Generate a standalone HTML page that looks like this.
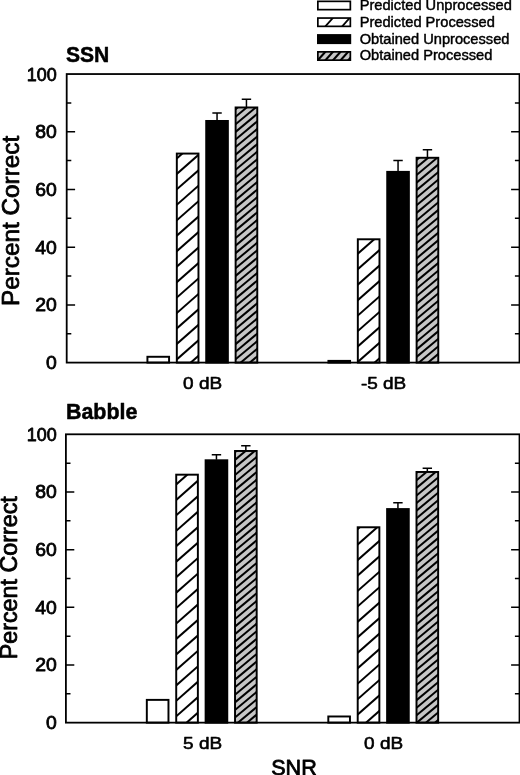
<!DOCTYPE html>
<html lang="en"><head><meta charset="utf-8"><title>Percent Correct by SNR</title>
<style>html,body{margin:0;padding:0;background:#fff}svg{display:block}text{stroke:#000;stroke-width:.8px;stroke-linejoin:round}text.b{stroke-width:.5px}text.l{stroke-width:.45px}text.x{stroke-width:.6px}</style></head>
<body>
<svg width="520" height="775" viewBox="0 0 520 775" font-family='"Liberation Sans", sans-serif' fill="#000" stroke="none">
<rect x="0" y="0" width="520" height="775" fill="#fff"/>
<rect x="317.85" y="1.35" width="32.50" height="8.30" fill="#fff"/>
<rect x="317.85" y="1.35" width="32.50" height="8.30" fill="none" stroke="#000" stroke-width="1.7"/>
<text class="l" x="359.7" y="10.4" font-size="14.65">Predicted Unprocessed</text>
<rect x="317.85" y="18.05" width="32.50" height="8.30" fill="#fff"/>
<clipPath id="c1"><rect x="317.85" y="18.05" width="32.50" height="8.30"/></clipPath>
<g clip-path="url(#c1)" stroke="#000" stroke-width="1.8">
<line x1="306.81" y1="28.35" x2="317.79" y2="16.05"/>
<line x1="323.61" y1="28.35" x2="334.59" y2="16.05"/>
<line x1="340.41" y1="28.35" x2="351.39" y2="16.05"/>
</g>
<rect x="317.85" y="18.05" width="32.50" height="8.30" fill="none" stroke="#000" stroke-width="1.7"/>
<text class="l" x="359.7" y="27.1" font-size="14.65">Predicted Processed</text>
<rect x="317.85" y="34.95" width="32.50" height="8.30" fill="#000"/>
<rect x="317.85" y="34.95" width="32.50" height="8.30" fill="none" stroke="#000" stroke-width="1.7"/>
<text class="l" x="359.7" y="43.7" font-size="14.65">Obtained Unprocessed</text>
<rect x="317.85" y="51.85" width="32.50" height="8.30" fill="#c6c6c6"/>
<clipPath id="c2"><rect x="317.85" y="51.85" width="32.50" height="8.30"/></clipPath>
<g clip-path="url(#c2)" stroke="#000" stroke-width="2.1">
<line x1="308.51" y1="62.15" x2="319.49" y2="49.85"/>
<line x1="316.11" y1="62.15" x2="327.09" y2="49.85"/>
<line x1="323.71" y1="62.15" x2="334.69" y2="49.85"/>
<line x1="331.31" y1="62.15" x2="342.29" y2="49.85"/>
<line x1="338.91" y1="62.15" x2="349.89" y2="49.85"/>
<line x1="346.51" y1="62.15" x2="357.49" y2="49.85"/>
</g>
<rect x="317.85" y="51.85" width="32.50" height="8.30" fill="none" stroke="#000" stroke-width="1.7"/>
<text class="l" x="359.7" y="60.3" font-size="14.65">Obtained Processed</text>
<text transform="translate(66 62.2) scale(0.985 1.07)" class="b" font-size="21.4" font-weight="bold">SSN</text>
<text transform="translate(19.3 220.9) rotate(-90)" text-anchor="middle" font-size="24.3">Percent Correct</text>
<rect x="147.42" y="356.78" width="21.65" height="5.82" fill="#fff"/>
<rect x="147.42" y="356.78" width="21.65" height="5.82" fill="none" stroke="#000" stroke-width="1.95"/>
<rect x="176.82" y="153.57" width="21.65" height="209.03" fill="#fff"/>
<clipPath id="c3"><rect x="176.82" y="153.57" width="21.65" height="209.03"/></clipPath>
<g clip-path="url(#c3)" stroke="#000" stroke-width="2.0">
<line x1="174.82" y1="129.24" x2="200.47" y2="106.67"/>
<line x1="174.82" y1="144.70" x2="200.47" y2="122.13"/>
<line x1="174.82" y1="160.16" x2="200.47" y2="137.59"/>
<line x1="174.82" y1="175.62" x2="200.47" y2="153.05"/>
<line x1="174.82" y1="191.08" x2="200.47" y2="168.51"/>
<line x1="174.82" y1="206.54" x2="200.47" y2="183.97"/>
<line x1="174.82" y1="222.00" x2="200.47" y2="199.43"/>
<line x1="174.82" y1="237.46" x2="200.47" y2="214.89"/>
<line x1="174.82" y1="252.92" x2="200.47" y2="230.35"/>
<line x1="174.82" y1="268.38" x2="200.47" y2="245.81"/>
<line x1="174.82" y1="283.84" x2="200.47" y2="261.27"/>
<line x1="174.82" y1="299.30" x2="200.47" y2="276.73"/>
<line x1="174.82" y1="314.76" x2="200.47" y2="292.19"/>
<line x1="174.82" y1="330.22" x2="200.47" y2="307.65"/>
<line x1="174.82" y1="345.68" x2="200.47" y2="323.11"/>
<line x1="174.82" y1="361.14" x2="200.47" y2="338.57"/>
<line x1="174.82" y1="376.60" x2="200.47" y2="354.03"/>
<line x1="174.82" y1="392.06" x2="200.47" y2="369.49"/>
</g>
<rect x="176.82" y="153.57" width="21.65" height="209.03" fill="none" stroke="#000" stroke-width="1.95"/>
<rect x="206.22" y="120.97" width="21.65" height="241.63" fill="#000"/>
<rect x="206.22" y="120.97" width="21.65" height="241.63" fill="none" stroke="#000" stroke-width="1.95"/>
<path d="M217.05 120.50V113.05M212.35 113.05H221.75" stroke="#000" stroke-width="1.5" fill="none"/>
<rect x="235.62" y="107.47" width="21.65" height="255.13" fill="#c6c6c6"/>
<clipPath id="c4"><rect x="235.62" y="107.47" width="21.65" height="255.13"/></clipPath>
<g clip-path="url(#c4)" stroke="#000" stroke-width="2.0">
<line x1="233.62" y1="95.63" x2="259.27" y2="74.21"/>
<line x1="233.62" y1="103.21" x2="259.27" y2="81.79"/>
<line x1="233.62" y1="110.79" x2="259.27" y2="89.37"/>
<line x1="233.62" y1="118.37" x2="259.27" y2="96.95"/>
<line x1="233.62" y1="125.95" x2="259.27" y2="104.53"/>
<line x1="233.62" y1="133.53" x2="259.27" y2="112.11"/>
<line x1="233.62" y1="141.11" x2="259.27" y2="119.69"/>
<line x1="233.62" y1="148.69" x2="259.27" y2="127.27"/>
<line x1="233.62" y1="156.27" x2="259.27" y2="134.85"/>
<line x1="233.62" y1="163.85" x2="259.27" y2="142.43"/>
<line x1="233.62" y1="171.43" x2="259.27" y2="150.01"/>
<line x1="233.62" y1="179.01" x2="259.27" y2="157.59"/>
<line x1="233.62" y1="186.59" x2="259.27" y2="165.17"/>
<line x1="233.62" y1="194.17" x2="259.27" y2="172.75"/>
<line x1="233.62" y1="201.75" x2="259.27" y2="180.33"/>
<line x1="233.62" y1="209.33" x2="259.27" y2="187.91"/>
<line x1="233.62" y1="216.91" x2="259.27" y2="195.49"/>
<line x1="233.62" y1="224.49" x2="259.27" y2="203.07"/>
<line x1="233.62" y1="232.07" x2="259.27" y2="210.65"/>
<line x1="233.62" y1="239.65" x2="259.27" y2="218.23"/>
<line x1="233.62" y1="247.23" x2="259.27" y2="225.81"/>
<line x1="233.62" y1="254.81" x2="259.27" y2="233.39"/>
<line x1="233.62" y1="262.39" x2="259.27" y2="240.97"/>
<line x1="233.62" y1="269.97" x2="259.27" y2="248.55"/>
<line x1="233.62" y1="277.55" x2="259.27" y2="256.13"/>
<line x1="233.62" y1="285.13" x2="259.27" y2="263.71"/>
<line x1="233.62" y1="292.71" x2="259.27" y2="271.29"/>
<line x1="233.62" y1="300.29" x2="259.27" y2="278.87"/>
<line x1="233.62" y1="307.87" x2="259.27" y2="286.45"/>
<line x1="233.62" y1="315.45" x2="259.27" y2="294.03"/>
<line x1="233.62" y1="323.03" x2="259.27" y2="301.61"/>
<line x1="233.62" y1="330.61" x2="259.27" y2="309.19"/>
<line x1="233.62" y1="338.19" x2="259.27" y2="316.77"/>
<line x1="233.62" y1="345.77" x2="259.27" y2="324.35"/>
<line x1="233.62" y1="353.35" x2="259.27" y2="331.93"/>
<line x1="233.62" y1="360.93" x2="259.27" y2="339.51"/>
<line x1="233.62" y1="368.51" x2="259.27" y2="347.09"/>
<line x1="233.62" y1="376.09" x2="259.27" y2="354.67"/>
<line x1="233.62" y1="383.67" x2="259.27" y2="362.25"/>
</g>
<rect x="235.62" y="107.47" width="21.65" height="255.13" fill="none" stroke="#000" stroke-width="1.95"/>
<path d="M246.45 107.00V99.25M241.75 99.25H251.15" stroke="#000" stroke-width="1.5" fill="none"/>
<rect x="328.43" y="360.88" width="21.65" height="1.73" fill="#fff"/>
<rect x="328.43" y="360.88" width="21.65" height="1.73" fill="none" stroke="#000" stroke-width="1.95"/>
<rect x="357.83" y="239.28" width="21.65" height="123.33" fill="#fff"/>
<clipPath id="c5"><rect x="357.83" y="239.28" width="21.65" height="123.33"/></clipPath>
<g clip-path="url(#c5)" stroke="#000" stroke-width="2.0">
<line x1="355.83" y1="224.54" x2="381.48" y2="201.97"/>
<line x1="355.83" y1="240.00" x2="381.48" y2="217.43"/>
<line x1="355.83" y1="255.46" x2="381.48" y2="232.89"/>
<line x1="355.83" y1="270.92" x2="381.48" y2="248.35"/>
<line x1="355.83" y1="286.38" x2="381.48" y2="263.81"/>
<line x1="355.83" y1="301.84" x2="381.48" y2="279.27"/>
<line x1="355.83" y1="317.30" x2="381.48" y2="294.73"/>
<line x1="355.83" y1="332.76" x2="381.48" y2="310.19"/>
<line x1="355.83" y1="348.22" x2="381.48" y2="325.65"/>
<line x1="355.83" y1="363.68" x2="381.48" y2="341.11"/>
<line x1="355.83" y1="379.14" x2="381.48" y2="356.57"/>
<line x1="355.83" y1="394.60" x2="381.48" y2="372.03"/>
</g>
<rect x="357.83" y="239.28" width="21.65" height="123.33" fill="none" stroke="#000" stroke-width="1.95"/>
<rect x="387.23" y="171.88" width="21.65" height="190.73" fill="#000"/>
<rect x="387.23" y="171.88" width="21.65" height="190.73" fill="none" stroke="#000" stroke-width="1.95"/>
<path d="M398.05 171.40V160.55M393.35 160.55H402.75" stroke="#000" stroke-width="1.5" fill="none"/>
<rect x="416.62" y="157.78" width="21.65" height="204.83" fill="#c6c6c6"/>
<clipPath id="c6"><rect x="416.62" y="157.78" width="21.65" height="204.83"/></clipPath>
<g clip-path="url(#c6)" stroke="#000" stroke-width="2.0">
<line x1="414.62" y1="146.33" x2="440.27" y2="124.91"/>
<line x1="414.62" y1="153.91" x2="440.27" y2="132.49"/>
<line x1="414.62" y1="161.49" x2="440.27" y2="140.07"/>
<line x1="414.62" y1="169.07" x2="440.27" y2="147.65"/>
<line x1="414.62" y1="176.65" x2="440.27" y2="155.23"/>
<line x1="414.62" y1="184.23" x2="440.27" y2="162.81"/>
<line x1="414.62" y1="191.81" x2="440.27" y2="170.39"/>
<line x1="414.62" y1="199.39" x2="440.27" y2="177.97"/>
<line x1="414.62" y1="206.97" x2="440.27" y2="185.55"/>
<line x1="414.62" y1="214.55" x2="440.27" y2="193.13"/>
<line x1="414.62" y1="222.13" x2="440.27" y2="200.71"/>
<line x1="414.62" y1="229.71" x2="440.27" y2="208.29"/>
<line x1="414.62" y1="237.29" x2="440.27" y2="215.87"/>
<line x1="414.62" y1="244.87" x2="440.27" y2="223.45"/>
<line x1="414.62" y1="252.45" x2="440.27" y2="231.03"/>
<line x1="414.62" y1="260.03" x2="440.27" y2="238.61"/>
<line x1="414.62" y1="267.61" x2="440.27" y2="246.19"/>
<line x1="414.62" y1="275.19" x2="440.27" y2="253.77"/>
<line x1="414.62" y1="282.77" x2="440.27" y2="261.35"/>
<line x1="414.62" y1="290.35" x2="440.27" y2="268.93"/>
<line x1="414.62" y1="297.93" x2="440.27" y2="276.51"/>
<line x1="414.62" y1="305.51" x2="440.27" y2="284.09"/>
<line x1="414.62" y1="313.09" x2="440.27" y2="291.67"/>
<line x1="414.62" y1="320.67" x2="440.27" y2="299.25"/>
<line x1="414.62" y1="328.25" x2="440.27" y2="306.83"/>
<line x1="414.62" y1="335.83" x2="440.27" y2="314.41"/>
<line x1="414.62" y1="343.41" x2="440.27" y2="321.99"/>
<line x1="414.62" y1="350.99" x2="440.27" y2="329.57"/>
<line x1="414.62" y1="358.57" x2="440.27" y2="337.15"/>
<line x1="414.62" y1="366.15" x2="440.27" y2="344.73"/>
<line x1="414.62" y1="373.73" x2="440.27" y2="352.31"/>
<line x1="414.62" y1="381.31" x2="440.27" y2="359.89"/>
<line x1="414.62" y1="388.89" x2="440.27" y2="367.47"/>
</g>
<rect x="416.62" y="157.78" width="21.65" height="204.83" fill="none" stroke="#000" stroke-width="1.95"/>
<path d="M427.45 157.30V149.85M422.75 149.85H432.15" stroke="#000" stroke-width="1.5" fill="none"/>
<rect x="66.7" y="74.05" width="452.80" height="288.55" fill="none" stroke="#000" stroke-width="1.8"/>
<text transform="translate(56.7 369.05) scale(1.03 1)" text-anchor="end" font-size="18.8">0</text>
<path d="M66.7 333.75h4.6M519.5 333.75h-4.6" stroke="#000" stroke-width="1.5" fill="none"/>
<path d="M66.7 304.89h8.4M519.5 304.89h-8.4" stroke="#000" stroke-width="1.5" fill="none"/>
<text transform="translate(56.7 311.34) scale(1.03 1)" text-anchor="end" font-size="18.8">20</text>
<path d="M66.7 276.04h4.6M519.5 276.04h-4.6" stroke="#000" stroke-width="1.5" fill="none"/>
<path d="M66.7 247.18h8.4M519.5 247.18h-8.4" stroke="#000" stroke-width="1.5" fill="none"/>
<text transform="translate(56.7 253.63) scale(1.03 1)" text-anchor="end" font-size="18.8">40</text>
<path d="M66.7 218.33h4.6M519.5 218.33h-4.6" stroke="#000" stroke-width="1.5" fill="none"/>
<path d="M66.7 189.47h8.4M519.5 189.47h-8.4" stroke="#000" stroke-width="1.5" fill="none"/>
<text transform="translate(56.7 195.92) scale(1.03 1)" text-anchor="end" font-size="18.8">60</text>
<path d="M66.7 160.62h4.6M519.5 160.62h-4.6" stroke="#000" stroke-width="1.5" fill="none"/>
<path d="M66.7 131.76h8.4M519.5 131.76h-8.4" stroke="#000" stroke-width="1.5" fill="none"/>
<text transform="translate(56.7 138.21) scale(1.03 1)" text-anchor="end" font-size="18.8">80</text>
<path d="M66.7 102.91h4.6M519.5 102.91h-4.6" stroke="#000" stroke-width="1.5" fill="none"/>
<text transform="translate(56.7 80.50) scale(0.955 1)" text-anchor="end" font-size="18.8">100</text>
<text transform="translate(202.6 389.2) scale(1.09 1)" class="x" text-anchor="middle" font-size="17.4">0 dB</text>
<text transform="translate(383.6 389.2) scale(1.09 1)" class="x" text-anchor="middle" font-size="17.4">-5 dB</text>
<text transform="translate(66 418.6) scale(1 1)" class="b" font-size="21.4" font-weight="bold">Babble</text>
<text transform="translate(17.4 577.8) rotate(-90)" text-anchor="middle" font-size="23.3">Percent Correct</text>
<rect x="146.82" y="699.88" width="21.65" height="22.77" fill="#fff"/>
<rect x="146.82" y="699.88" width="21.65" height="22.77" fill="none" stroke="#000" stroke-width="1.95"/>
<rect x="176.22" y="474.68" width="21.65" height="247.97" fill="#fff"/>
<clipPath id="c7"><rect x="176.22" y="474.68" width="21.65" height="247.97"/></clipPath>
<g clip-path="url(#c7)" stroke="#000" stroke-width="2.0">
<line x1="174.22" y1="455.24" x2="199.88" y2="432.67"/>
<line x1="174.22" y1="470.70" x2="199.88" y2="448.13"/>
<line x1="174.22" y1="486.16" x2="199.88" y2="463.59"/>
<line x1="174.22" y1="501.62" x2="199.88" y2="479.05"/>
<line x1="174.22" y1="517.08" x2="199.88" y2="494.51"/>
<line x1="174.22" y1="532.54" x2="199.88" y2="509.97"/>
<line x1="174.22" y1="548.00" x2="199.88" y2="525.43"/>
<line x1="174.22" y1="563.46" x2="199.88" y2="540.89"/>
<line x1="174.22" y1="578.92" x2="199.88" y2="556.35"/>
<line x1="174.22" y1="594.38" x2="199.88" y2="571.81"/>
<line x1="174.22" y1="609.84" x2="199.88" y2="587.27"/>
<line x1="174.22" y1="625.30" x2="199.88" y2="602.73"/>
<line x1="174.22" y1="640.76" x2="199.88" y2="618.19"/>
<line x1="174.22" y1="656.22" x2="199.88" y2="633.65"/>
<line x1="174.22" y1="671.68" x2="199.88" y2="649.11"/>
<line x1="174.22" y1="687.14" x2="199.88" y2="664.57"/>
<line x1="174.22" y1="702.60" x2="199.88" y2="680.03"/>
<line x1="174.22" y1="718.06" x2="199.88" y2="695.49"/>
<line x1="174.22" y1="733.52" x2="199.88" y2="710.95"/>
<line x1="174.22" y1="748.98" x2="199.88" y2="726.41"/>
</g>
<rect x="176.22" y="474.68" width="21.65" height="247.97" fill="none" stroke="#000" stroke-width="1.95"/>
<rect x="205.62" y="460.28" width="21.65" height="262.37" fill="#000"/>
<rect x="205.62" y="460.28" width="21.65" height="262.37" fill="none" stroke="#000" stroke-width="1.95"/>
<path d="M216.45 459.80V454.85M211.75 454.85H221.15" stroke="#000" stroke-width="1.5" fill="none"/>
<rect x="235.03" y="450.98" width="21.65" height="271.67" fill="#c6c6c6"/>
<clipPath id="c8"><rect x="235.03" y="450.98" width="21.65" height="271.67"/></clipPath>
<g clip-path="url(#c8)" stroke="#000" stroke-width="2.0">
<line x1="233.03" y1="438.73" x2="258.68" y2="417.31"/>
<line x1="233.03" y1="446.31" x2="258.68" y2="424.89"/>
<line x1="233.03" y1="453.89" x2="258.68" y2="432.47"/>
<line x1="233.03" y1="461.47" x2="258.68" y2="440.05"/>
<line x1="233.03" y1="469.05" x2="258.68" y2="447.63"/>
<line x1="233.03" y1="476.63" x2="258.68" y2="455.21"/>
<line x1="233.03" y1="484.21" x2="258.68" y2="462.79"/>
<line x1="233.03" y1="491.79" x2="258.68" y2="470.37"/>
<line x1="233.03" y1="499.37" x2="258.68" y2="477.95"/>
<line x1="233.03" y1="506.95" x2="258.68" y2="485.53"/>
<line x1="233.03" y1="514.53" x2="258.68" y2="493.11"/>
<line x1="233.03" y1="522.11" x2="258.68" y2="500.69"/>
<line x1="233.03" y1="529.69" x2="258.68" y2="508.27"/>
<line x1="233.03" y1="537.27" x2="258.68" y2="515.85"/>
<line x1="233.03" y1="544.85" x2="258.68" y2="523.43"/>
<line x1="233.03" y1="552.43" x2="258.68" y2="531.01"/>
<line x1="233.03" y1="560.01" x2="258.68" y2="538.59"/>
<line x1="233.03" y1="567.59" x2="258.68" y2="546.17"/>
<line x1="233.03" y1="575.17" x2="258.68" y2="553.75"/>
<line x1="233.03" y1="582.75" x2="258.68" y2="561.33"/>
<line x1="233.03" y1="590.33" x2="258.68" y2="568.91"/>
<line x1="233.03" y1="597.91" x2="258.68" y2="576.49"/>
<line x1="233.03" y1="605.49" x2="258.68" y2="584.07"/>
<line x1="233.03" y1="613.07" x2="258.68" y2="591.65"/>
<line x1="233.03" y1="620.65" x2="258.68" y2="599.23"/>
<line x1="233.03" y1="628.23" x2="258.68" y2="606.81"/>
<line x1="233.03" y1="635.81" x2="258.68" y2="614.39"/>
<line x1="233.03" y1="643.39" x2="258.68" y2="621.97"/>
<line x1="233.03" y1="650.97" x2="258.68" y2="629.55"/>
<line x1="233.03" y1="658.55" x2="258.68" y2="637.13"/>
<line x1="233.03" y1="666.13" x2="258.68" y2="644.71"/>
<line x1="233.03" y1="673.71" x2="258.68" y2="652.29"/>
<line x1="233.03" y1="681.29" x2="258.68" y2="659.87"/>
<line x1="233.03" y1="688.87" x2="258.68" y2="667.45"/>
<line x1="233.03" y1="696.45" x2="258.68" y2="675.03"/>
<line x1="233.03" y1="704.03" x2="258.68" y2="682.61"/>
<line x1="233.03" y1="711.61" x2="258.68" y2="690.19"/>
<line x1="233.03" y1="719.19" x2="258.68" y2="697.77"/>
<line x1="233.03" y1="726.77" x2="258.68" y2="705.35"/>
<line x1="233.03" y1="734.35" x2="258.68" y2="712.93"/>
<line x1="233.03" y1="741.93" x2="258.68" y2="720.51"/>
<line x1="233.03" y1="749.51" x2="258.68" y2="728.09"/>
</g>
<rect x="235.03" y="450.98" width="21.65" height="271.67" fill="none" stroke="#000" stroke-width="1.95"/>
<path d="M245.85 450.50V445.85M241.15 445.85H250.55" stroke="#000" stroke-width="1.5" fill="none"/>
<rect x="328.31" y="716.48" width="21.65" height="6.17" fill="#fff"/>
<rect x="328.31" y="716.48" width="21.65" height="6.17" fill="none" stroke="#000" stroke-width="1.95"/>
<rect x="357.71" y="527.27" width="21.65" height="195.38" fill="#fff"/>
<clipPath id="c9"><rect x="357.71" y="527.27" width="21.65" height="195.38"/></clipPath>
<g clip-path="url(#c9)" stroke="#000" stroke-width="2.0">
<line x1="355.71" y1="499.88" x2="381.36" y2="477.31"/>
<line x1="355.71" y1="515.34" x2="381.36" y2="492.77"/>
<line x1="355.71" y1="530.80" x2="381.36" y2="508.23"/>
<line x1="355.71" y1="546.26" x2="381.36" y2="523.69"/>
<line x1="355.71" y1="561.72" x2="381.36" y2="539.15"/>
<line x1="355.71" y1="577.18" x2="381.36" y2="554.61"/>
<line x1="355.71" y1="592.64" x2="381.36" y2="570.07"/>
<line x1="355.71" y1="608.10" x2="381.36" y2="585.53"/>
<line x1="355.71" y1="623.56" x2="381.36" y2="600.99"/>
<line x1="355.71" y1="639.02" x2="381.36" y2="616.45"/>
<line x1="355.71" y1="654.48" x2="381.36" y2="631.91"/>
<line x1="355.71" y1="669.94" x2="381.36" y2="647.37"/>
<line x1="355.71" y1="685.40" x2="381.36" y2="662.83"/>
<line x1="355.71" y1="700.86" x2="381.36" y2="678.29"/>
<line x1="355.71" y1="716.32" x2="381.36" y2="693.75"/>
<line x1="355.71" y1="731.78" x2="381.36" y2="709.21"/>
<line x1="355.71" y1="747.24" x2="381.36" y2="724.67"/>
</g>
<rect x="357.71" y="527.27" width="21.65" height="195.38" fill="none" stroke="#000" stroke-width="1.95"/>
<rect x="387.11" y="509.08" width="21.65" height="213.57" fill="#000"/>
<rect x="387.11" y="509.08" width="21.65" height="213.57" fill="none" stroke="#000" stroke-width="1.95"/>
<path d="M397.93 508.60V502.75M393.23 502.75H402.63" stroke="#000" stroke-width="1.5" fill="none"/>
<rect x="416.50" y="471.98" width="21.65" height="250.67" fill="#c6c6c6"/>
<clipPath id="c10"><rect x="416.50" y="471.98" width="21.65" height="250.67"/></clipPath>
<g clip-path="url(#c10)" stroke="#000" stroke-width="2.0">
<line x1="414.50" y1="459.33" x2="440.15" y2="437.91"/>
<line x1="414.50" y1="466.91" x2="440.15" y2="445.49"/>
<line x1="414.50" y1="474.49" x2="440.15" y2="453.07"/>
<line x1="414.50" y1="482.07" x2="440.15" y2="460.65"/>
<line x1="414.50" y1="489.65" x2="440.15" y2="468.23"/>
<line x1="414.50" y1="497.23" x2="440.15" y2="475.81"/>
<line x1="414.50" y1="504.81" x2="440.15" y2="483.39"/>
<line x1="414.50" y1="512.39" x2="440.15" y2="490.97"/>
<line x1="414.50" y1="519.97" x2="440.15" y2="498.55"/>
<line x1="414.50" y1="527.55" x2="440.15" y2="506.13"/>
<line x1="414.50" y1="535.13" x2="440.15" y2="513.71"/>
<line x1="414.50" y1="542.71" x2="440.15" y2="521.29"/>
<line x1="414.50" y1="550.29" x2="440.15" y2="528.87"/>
<line x1="414.50" y1="557.87" x2="440.15" y2="536.45"/>
<line x1="414.50" y1="565.45" x2="440.15" y2="544.03"/>
<line x1="414.50" y1="573.03" x2="440.15" y2="551.61"/>
<line x1="414.50" y1="580.61" x2="440.15" y2="559.19"/>
<line x1="414.50" y1="588.19" x2="440.15" y2="566.77"/>
<line x1="414.50" y1="595.77" x2="440.15" y2="574.35"/>
<line x1="414.50" y1="603.35" x2="440.15" y2="581.93"/>
<line x1="414.50" y1="610.93" x2="440.15" y2="589.51"/>
<line x1="414.50" y1="618.51" x2="440.15" y2="597.09"/>
<line x1="414.50" y1="626.09" x2="440.15" y2="604.67"/>
<line x1="414.50" y1="633.67" x2="440.15" y2="612.25"/>
<line x1="414.50" y1="641.25" x2="440.15" y2="619.83"/>
<line x1="414.50" y1="648.83" x2="440.15" y2="627.41"/>
<line x1="414.50" y1="656.41" x2="440.15" y2="634.99"/>
<line x1="414.50" y1="663.99" x2="440.15" y2="642.57"/>
<line x1="414.50" y1="671.57" x2="440.15" y2="650.15"/>
<line x1="414.50" y1="679.15" x2="440.15" y2="657.73"/>
<line x1="414.50" y1="686.73" x2="440.15" y2="665.31"/>
<line x1="414.50" y1="694.31" x2="440.15" y2="672.89"/>
<line x1="414.50" y1="701.89" x2="440.15" y2="680.47"/>
<line x1="414.50" y1="709.47" x2="440.15" y2="688.05"/>
<line x1="414.50" y1="717.05" x2="440.15" y2="695.63"/>
<line x1="414.50" y1="724.63" x2="440.15" y2="703.21"/>
<line x1="414.50" y1="732.21" x2="440.15" y2="710.79"/>
<line x1="414.50" y1="739.79" x2="440.15" y2="718.37"/>
<line x1="414.50" y1="747.37" x2="440.15" y2="725.95"/>
</g>
<rect x="416.50" y="471.98" width="21.65" height="250.67" fill="none" stroke="#000" stroke-width="1.95"/>
<path d="M427.33 471.50V468.15M422.63 468.15H432.03" stroke="#000" stroke-width="1.5" fill="none"/>
<rect x="65.9" y="434.3" width="453.60" height="288.35" fill="none" stroke="#000" stroke-width="1.8"/>
<text transform="translate(56.7 729.10) scale(1.03 1)" text-anchor="end" font-size="18.8">0</text>
<path d="M65.9 693.81h4.6M519.5 693.81h-4.6" stroke="#000" stroke-width="1.5" fill="none"/>
<path d="M65.9 664.98h8.4M519.5 664.98h-8.4" stroke="#000" stroke-width="1.5" fill="none"/>
<text transform="translate(56.7 671.43) scale(1.03 1)" text-anchor="end" font-size="18.8">20</text>
<path d="M65.9 636.14h4.6M519.5 636.14h-4.6" stroke="#000" stroke-width="1.5" fill="none"/>
<path d="M65.9 607.31h8.4M519.5 607.31h-8.4" stroke="#000" stroke-width="1.5" fill="none"/>
<text transform="translate(56.7 613.76) scale(1.03 1)" text-anchor="end" font-size="18.8">40</text>
<path d="M65.9 578.48h4.6M519.5 578.48h-4.6" stroke="#000" stroke-width="1.5" fill="none"/>
<path d="M65.9 549.64h8.4M519.5 549.64h-8.4" stroke="#000" stroke-width="1.5" fill="none"/>
<text transform="translate(56.7 556.09) scale(1.03 1)" text-anchor="end" font-size="18.8">60</text>
<path d="M65.9 520.81h4.6M519.5 520.81h-4.6" stroke="#000" stroke-width="1.5" fill="none"/>
<path d="M65.9 491.97h8.4M519.5 491.97h-8.4" stroke="#000" stroke-width="1.5" fill="none"/>
<text transform="translate(56.7 498.42) scale(1.03 1)" text-anchor="end" font-size="18.8">80</text>
<path d="M65.9 463.13h4.6M519.5 463.13h-4.6" stroke="#000" stroke-width="1.5" fill="none"/>
<text transform="translate(56.7 440.75) scale(0.955 1)" text-anchor="end" font-size="18.8">100</text>
<text transform="translate(202.6 749.2) scale(1.09 1)" class="x" text-anchor="middle" font-size="17.4">5 dB</text>
<text transform="translate(383.6 749.2) scale(1.09 1)" class="x" text-anchor="middle" font-size="17.4">0 dB</text>
<text x="294" y="775.2" text-anchor="middle" font-size="21.6">SNR</text>
</svg>
</body></html>
